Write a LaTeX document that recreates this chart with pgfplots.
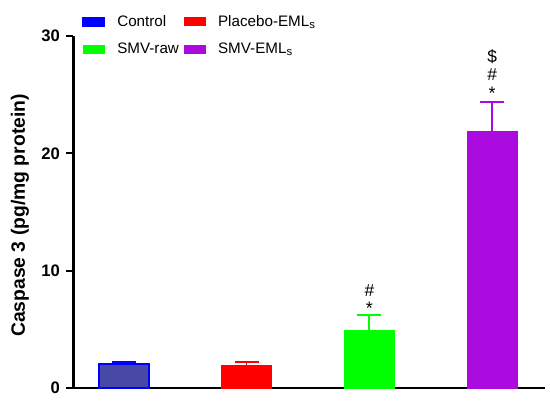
\documentclass[border=0pt]{standalone}
\usepackage{pgfplots}
\pgfplotsset{compat=1.18}
\usepackage{fontspec}
\setmainfont{Liberation Sans}

\definecolor{ctrlfill}{RGB}{72,72,165}
\definecolor{ctrlblue}{RGB}{0,0,255}
\definecolor{plred}{RGB}{255,0,0}
\definecolor{smvgreen}{RGB}{0,255,0}
\definecolor{smvpurple}{RGB}{170,10,222}

\newcommand{\emls}{EML\raisebox{-0.25ex}{\fontsize{8.5}{9}\selectfont s}}

\begin{document}
\begin{tikzpicture}
\path[use as bounding box] (-55pt,-9.75pt) rectangle (357.5pt,291pt);
\begin{axis}[
    scale only axis,
    width=353.8pt,
    height=264pt,
    xmin=-0.41, xmax=3.43,
    ymin=0, ymax=30,
    axis lines=left,
    axis line style={-, line width=2.2pt},
    xtick=\empty,
    ytick={0,10,20,30},
    ytick style={line width=1.6pt, black},
    tick align=outside,
    major tick length=5.5pt,
    yticklabel style={font=\bfseries\fontsize{12.5}{14}\selectfont, xshift=-1pt},
    /pgf/number format/assume math mode=true,
    ylabel={Caspase 3 (pg/mg protein)},
    ylabel style={font=\bfseries\fontsize{14.5}{16}\selectfont, at={(axis description cs:-0.113,0.49)}, anchor=center},
    ybar,
    bar width=37.5pt,
    clip=false,
    legend columns=2,
    legend style={at={(axis description cs:0.01,1.075)}, anchor=north west,
        draw=none, fill=none, font=\fontsize{11.4}{13}\selectfont,
        /tikz/every odd column/.append style={column sep=7pt},
        /tikz/every even column/.append style={column sep=2pt},
        row sep=7pt},
    legend cell align=left,
    legend image code/.code={\draw[#1, line width=0.6pt] (0pt,-3pt) rectangle (15.75pt,3pt);},
    error bars/y dir=plus,
    error bars/y explicit,
    error bars/error mark options={rotate=90, mark size=9pt, line width=1.4pt},
]

% Control
\addplot[bar shift=0pt, draw=ctrlblue, fill=ctrlfill, line width=1.5pt,
    legend image code/.code={\draw[ctrlblue, fill=ctrlblue] (0pt,-3pt) rectangle (15.75pt,3pt);},
    error bars/error bar style={ctrlblue, line width=1.4pt}]
    coordinates {(0,2.05) +- (0,0.2)};
% Placebo-EMLs
\addplot[bar shift=0pt, draw=plred, fill=plred, line width=0.8pt,
    error bars/error bar style={plred, line width=1.4pt}]
    coordinates {(1,1.88) +- (0,0.32)};
% SMV-raw
\addplot[bar shift=0pt, draw=smvgreen, fill=smvgreen, line width=0.8pt,
    error bars/error bar style={smvgreen, line width=1.4pt}]
    coordinates {(2,4.86) +- (0,1.36)};
% SMV-EMLs
\addplot[bar shift=0pt, draw=smvpurple, fill=smvpurple, line width=0.8pt,
    error bars/error bar style={smvpurple, line width=1.4pt}]
    coordinates {(3,21.9) +- (0,2.5)};

\legend{Control, Placebo-\emls, SMV-raw, SMV-\emls}

% significance marks
\node[font=\fontsize{13.5}{15}\selectfont] at (axis cs:2,6.8) {*};
\node[font=\fontsize{13}{15}\selectfont] at (axis cs:2,8.27) {\#};
\node[font=\fontsize{13.5}{15}\selectfont] at (axis cs:3,25.1) {*};
\node[font=\fontsize{13}{15}\selectfont] at (axis cs:3,26.7) {\#};
\node[font=\fontsize{13}{15}\selectfont] at (axis cs:3,28.2) {\$};
\end{axis}
\end{tikzpicture}
\end{document}
